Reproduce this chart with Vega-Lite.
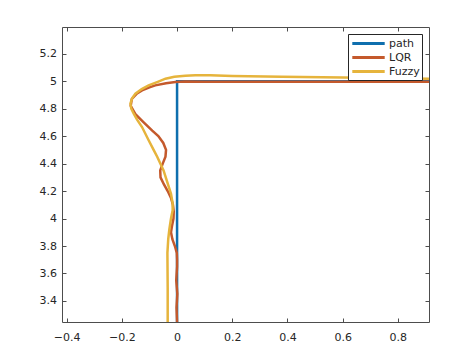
{
  "$schema": "https://vega.github.io/schema/vega-lite/v6.json",
  "autosize": "none",
  "width": 367,
  "height": 295,
  "padding": {"left": 62, "top": 27, "right": 45, "bottom": 39},
  "background": "white",
  "config": {
    "view": {"stroke": "#4d4d4d", "strokeWidth": 1},
    "font": "DejaVu Sans",
    "axis": {"grid": false, "title": null, "domain": false, "tickColor": "#4d4d4d", "labelColor": "#262626", "labelFont": "DejaVu Sans", "labelFontSize": 11, "tickSize": -4, "tickWidth": 1}
  },
  "data": {"values": [
    {"s": "path", "i": 0, "x": 0, "y": 3.247},
    {"s": "path", "i": 1, "x": 0, "y": 5.0},
    {"s": "path", "i": 2, "x": 0.913, "y": 5.0},

    {"s": "LQR", "i": 0, "x": 0.0, "y": 3.247},
    {"s": "LQR", "i": 1, "x": -0.002, "y": 3.35},
    {"s": "LQR", "i": 2, "x": 0.001, "y": 3.45},
    {"s": "LQR", "i": 3, "x": -0.003, "y": 3.55},
    {"s": "LQR", "i": 4, "x": 0.0, "y": 3.65},
    {"s": "LQR", "i": 5, "x": 0.0, "y": 3.70},
    {"s": "LQR", "i": 6, "x": -0.001, "y": 3.75},
    {"s": "LQR", "i": 7, "x": -0.008, "y": 3.80},
    {"s": "LQR", "i": 8, "x": -0.017, "y": 3.85},
    {"s": "LQR", "i": 9, "x": -0.022, "y": 3.90},
    {"s": "LQR", "i": 10, "x": -0.018, "y": 3.95},
    {"s": "LQR", "i": 11, "x": -0.013, "y": 4.00},
    {"s": "LQR", "i": 12, "x": -0.012, "y": 4.05},
    {"s": "LQR", "i": 13, "x": -0.015, "y": 4.10},
    {"s": "LQR", "i": 14, "x": -0.022, "y": 4.15},
    {"s": "LQR", "i": 15, "x": -0.034, "y": 4.20},
    {"s": "LQR", "i": 16, "x": -0.048, "y": 4.25},
    {"s": "LQR", "i": 17, "x": -0.060, "y": 4.30},
    {"s": "LQR", "i": 18, "x": -0.061, "y": 4.35},
    {"s": "LQR", "i": 19, "x": -0.052, "y": 4.40},
    {"s": "LQR", "i": 20, "x": -0.042, "y": 4.45},
    {"s": "LQR", "i": 21, "x": -0.040, "y": 4.50},
    {"s": "LQR", "i": 22, "x": -0.050, "y": 4.55},
    {"s": "LQR", "i": 23, "x": -0.068, "y": 4.60},
    {"s": "LQR", "i": 24, "x": -0.090, "y": 4.64},
    {"s": "LQR", "i": 25, "x": -0.121, "y": 4.70},
    {"s": "LQR", "i": 26, "x": -0.151, "y": 4.76},
    {"s": "LQR", "i": 27, "x": -0.168, "y": 4.82},
    {"s": "LQR", "i": 28, "x": -0.164, "y": 4.87},
    {"s": "LQR", "i": 29, "x": -0.145, "y": 4.91},
    {"s": "LQR", "i": 30, "x": -0.127, "y": 4.933},
    {"s": "LQR", "i": 31, "x": -0.100, "y": 4.955},
    {"s": "LQR", "i": 32, "x": -0.079, "y": 4.969},
    {"s": "LQR", "i": 33, "x": -0.040, "y": 4.985},
    {"s": "LQR", "i": 34, "x": -0.006, "y": 4.993},
    {"s": "LQR", "i": 35, "x": 0.03, "y": 4.997},
    {"s": "LQR", "i": 36, "x": 0.1, "y": 4.996},
    {"s": "LQR", "i": 37, "x": 0.5, "y": 4.996},
    {"s": "LQR", "i": 38, "x": 0.913, "y": 4.996},

    {"s": "Fuzzy", "i": 0, "x": -0.034, "y": 3.247},
    {"s": "Fuzzy", "i": 1, "x": -0.034, "y": 3.5},
    {"s": "Fuzzy", "i": 2, "x": -0.035, "y": 3.75},
    {"s": "Fuzzy", "i": 3, "x": -0.032, "y": 3.85},
    {"s": "Fuzzy", "i": 4, "x": -0.028, "y": 3.92},
    {"s": "Fuzzy", "i": 5, "x": -0.022, "y": 4.0},
    {"s": "Fuzzy", "i": 6, "x": -0.016, "y": 4.06},
    {"s": "Fuzzy", "i": 7, "x": -0.016, "y": 4.11},
    {"s": "Fuzzy", "i": 8, "x": -0.022, "y": 4.18},
    {"s": "Fuzzy", "i": 9, "x": -0.030, "y": 4.23},
    {"s": "Fuzzy", "i": 10, "x": -0.049, "y": 4.35},
    {"s": "Fuzzy", "i": 11, "x": -0.072, "y": 4.45},
    {"s": "Fuzzy", "i": 12, "x": -0.085, "y": 4.50},
    {"s": "Fuzzy", "i": 13, "x": -0.103, "y": 4.57},
    {"s": "Fuzzy", "i": 14, "x": -0.127, "y": 4.666},
    {"s": "Fuzzy", "i": 15, "x": -0.145, "y": 4.72},
    {"s": "Fuzzy", "i": 16, "x": -0.157, "y": 4.763},
    {"s": "Fuzzy", "i": 17, "x": -0.166, "y": 4.80},
    {"s": "Fuzzy", "i": 18, "x": -0.169, "y": 4.836},
    {"s": "Fuzzy", "i": 19, "x": -0.163, "y": 4.875},
    {"s": "Fuzzy", "i": 20, "x": -0.151, "y": 4.909},
    {"s": "Fuzzy", "i": 21, "x": -0.128, "y": 4.942},
    {"s": "Fuzzy", "i": 22, "x": -0.103, "y": 4.969},
    {"s": "Fuzzy", "i": 23, "x": -0.070, "y": 4.995},
    {"s": "Fuzzy", "i": 24, "x": -0.042, "y": 5.018},
    {"s": "Fuzzy", "i": 25, "x": -0.010, "y": 5.032},
    {"s": "Fuzzy", "i": 26, "x": 0.030, "y": 5.040},
    {"s": "Fuzzy", "i": 27, "x": 0.066, "y": 5.043},
    {"s": "Fuzzy", "i": 28, "x": 0.12, "y": 5.043},
    {"s": "Fuzzy", "i": 29, "x": 0.2, "y": 5.038},
    {"s": "Fuzzy", "i": 30, "x": 0.38, "y": 5.032},
    {"s": "Fuzzy", "i": 31, "x": 0.6, "y": 5.026},
    {"s": "Fuzzy", "i": 32, "x": 0.913, "y": 5.018}
  ]},
  "encoding": {
    "x": {"field": "x", "type": "quantitative", "scale": {"domain": [-0.417, 0.913], "nice": false, "zero": false}},
    "y": {"field": "y", "type": "quantitative", "scale": {"domain": [3.247, 5.394], "nice": false, "zero": false}},
    "order": {"field": "i", "type": "quantitative"},
    "color": {"field": "s", "type": "nominal", "sort": ["path", "LQR", "Fuzzy"],
      "scale": {"domain": ["path", "LQR", "Fuzzy"], "range": ["#0f6fae", "#c4592c", "#e6b43c"]},
      "legend": {"title": null, "orient": "top-right", "offset": 7, "strokeColor": "#262626", "fillColor": "white", "padding": 2, "symbolType": "M-2.7,0H2.7", "symbolSize": 144, "symbolOffset": 11, "symbolStrokeWidth": 3, "labelFontSize": 11, "labelColor": "#262626", "rowPadding": -1.5, "labelOffset": 13, "cornerRadius": 0}
    }
  },
  "layer": [
    {
      "mark": {"type": "line", "strokeWidth": 2.5, "clip": true},
      "encoding": {
        "x": {"field": "x", "type": "quantitative", "axis": {"orient": "bottom", "values": [-0.4, -0.2, 0, 0.2, 0.4, 0.6, 0.8], "labelPadding": 13, "format": "~g"}},
        "y": {"field": "y", "type": "quantitative", "axis": {"orient": "left", "values": [3.4, 3.6, 3.8, 4.0, 4.2, 4.4, 4.6, 4.8, 5.0, 5.2], "labelPadding": 9.5, "format": "~g"}}
      }
    },
    {
      "mark": {"type": "line", "opacity": 0, "clip": true},
      "encoding": {
        "x": {"field": "x", "type": "quantitative", "axis": {"orient": "top", "values": [-0.4, -0.2, 0, 0.2, 0.4, 0.6, 0.8], "labels": false}},
        "y": {"field": "y", "type": "quantitative", "axis": {"orient": "right", "values": [3.4, 3.6, 3.8, 4.0, 4.2, 4.4, 4.6, 4.8, 5.0, 5.2], "labels": false}}
      }
    }
  ],
  "resolve": {"axis": {"x": "independent", "y": "independent"}}
}
